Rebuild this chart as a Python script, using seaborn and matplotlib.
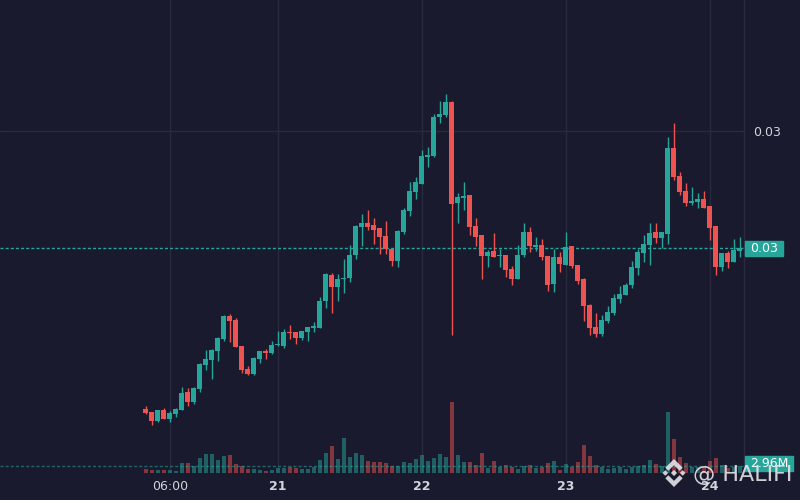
import matplotlib
matplotlib.use("Agg")
import matplotlib.pyplot as plt
from matplotlib.patches import Rectangle, Polygon
from matplotlib.lines import Line2D
from matplotlib.transforms import IdentityTransform
import numpy as np
import pandas as pd
import seaborn as sns

# hourly candles, day 20 02:00 -> day 24 05:00
opens = [0.02305, 0.022975, 0.02275, 0.023025, 0.0228, 0.022925, 0.023025, 0.023475, 0.023225, 0.02355,
         0.02415, 0.024275, 0.0245, 0.0248, 0.025375, 0.025275, 0.024625, 0.02405, 0.023925, 0.0243,
         0.0245, 0.02445, 0.02465, 0.024625, 0.024975, 0.024975, 0.024825, 0.024975, 0.025075, 0.025075,
         0.02575, 0.0264, 0.0261, 0.0263, 0.026325, 0.0269, 0.0276, 0.0277, 0.02765, 0.027575,
         0.027375, 0.02705, 0.02675, 0.027475, 0.028, 0.028475, 0.028675, 0.02935, 0.029375, 0.03035,
         0.0304, 0.030725, 0.0282, 0.028325, 0.0284, 0.027625, 0.0274, 0.026875, 0.027, 0.026875,
         0.0269, 0.02655, 0.0263, 0.0269, 0.027475, 0.0271, 0.02715, 0.026875, 0.026175, 0.02685,
         0.02665, 0.027125, 0.02665, 0.0263, 0.02565, 0.0251, 0.024925, 0.02525, 0.02545, 0.0258,
         0.0259, 0.02615, 0.026575, 0.02695, 0.02715, 0.027475, 0.027325, 0.027425, 0.029575, 0.028875,
         0.0285, 0.0282, 0.028225, 0.0283, 0.028125, 0.027625, 0.0266, 0.02695, 0.026725, 0.027]
highs = [0.023125, 0.022975, 0.023025, 0.023075, 0.023, 0.023075, 0.0236, 0.023575, 0.0236, 0.0242,
         0.024525, 0.02455, 0.02485, 0.0254, 0.025425, 0.025325, 0.024625, 0.024125, 0.02435, 0.0245,
         0.02455, 0.02475, 0.025, 0.02505, 0.02515, 0.024975, 0.025, 0.0251, 0.025225, 0.02585,
         0.02645, 0.02645, 0.026425, 0.0268, 0.02715, 0.02765, 0.027925, 0.028025, 0.027825, 0.027575,
         0.02775, 0.02705, 0.027525, 0.028075, 0.028725, 0.02885, 0.029525, 0.0296, 0.030425, 0.03075,
         0.030925, 0.03075, 0.02845, 0.028725, 0.0284, 0.027825, 0.0274, 0.027025, 0.02745, 0.02705,
         0.0269, 0.026625, 0.02715, 0.0277, 0.0276, 0.02735, 0.0273, 0.026875, 0.02705, 0.026975,
         0.027475, 0.027125, 0.02665, 0.026325, 0.025675, 0.02545, 0.0254, 0.025625, 0.025925, 0.026125,
         0.0262, 0.02675, 0.02705, 0.0274, 0.0277, 0.0277, 0.027475, 0.02985, 0.0302, 0.028975,
         0.0287, 0.0286, 0.02845, 0.0285, 0.028125, 0.027625, 0.02695, 0.027, 0.0273, 0.02735]
lows = [0.022925, 0.02265, 0.022725, 0.0228, 0.022725, 0.02285, 0.023025, 0.023125, 0.023175, 0.023475,
        0.024025, 0.0238, 0.02425, 0.02475, 0.024725, 0.0246, 0.02395, 0.0239, 0.0239, 0.0242,
        0.0243, 0.024425, 0.024625, 0.024575, 0.0248, 0.024675, 0.024775, 0.02475, 0.024975, 0.025075,
        0.025575, 0.02545, 0.02575, 0.02595, 0.026225, 0.0268, 0.027125, 0.027525, 0.027175, 0.026925,
        0.026925, 0.026625, 0.0266, 0.027425, 0.027875, 0.0283, 0.028675, 0.0291, 0.02935, 0.0302,
        0.03035, 0.0249, 0.0277, 0.028025, 0.0274, 0.027125, 0.0263, 0.0266, 0.02685, 0.0266,
        0.02635, 0.02615, 0.0263, 0.02685, 0.026975, 0.027, 0.026775, 0.026, 0.025975, 0.026475,
        0.02665, 0.026575, 0.026175, 0.02525, 0.0249, 0.02485, 0.024875, 0.0252, 0.0254, 0.0257,
        0.0259, 0.026075, 0.0264, 0.026725, 0.02665, 0.0272, 0.027075, 0.027175, 0.028775, 0.0284,
        0.028125, 0.02815, 0.028075, 0.028075, 0.027275, 0.0264, 0.0265, 0.026575, 0.026725, 0.02685]
closes = [0.02295, 0.02275, 0.023025, 0.0228, 0.02295, 0.02305, 0.02345, 0.023225, 0.023575, 0.024175,
          0.0243, 0.024525, 0.024825, 0.025375, 0.02525, 0.0246, 0.024025, 0.023925, 0.024325, 0.0245,
          0.02445, 0.02465, 0.024675, 0.024975, 0.02495, 0.024825, 0.025, 0.0251, 0.025125, 0.02575,
          0.026425, 0.0261, 0.0263, 0.026325, 0.0269, 0.027625, 0.0277, 0.0276, 0.027525, 0.02735,
          0.02705, 0.02675, 0.0275, 0.028025, 0.0285, 0.028725, 0.029375, 0.0294, 0.03035, 0.030425,
          0.030725, 0.028175, 0.02835, 0.028375, 0.0276, 0.02735, 0.026875, 0.026975, 0.02685, 0.0269,
          0.026525, 0.0263, 0.0269, 0.027475, 0.027125, 0.02715, 0.02685, 0.02615, 0.02685, 0.026675,
          0.0271, 0.026625, 0.02625, 0.025625, 0.025075, 0.024925, 0.025275, 0.025475, 0.025825, 0.025925,
          0.02615, 0.0266, 0.026975, 0.027175, 0.02745, 0.027325, 0.027475, 0.029575, 0.02885, 0.028475,
          0.0282, 0.02825, 0.0283, 0.028075, 0.027575, 0.0266, 0.02695, 0.026725, 0.027025, 0.027075]
# volume in millions
volumes_m = [1.69, 1.27, 1.27, 1.27, 1.27, 0.85, 4.23, 4.23, 2.96, 6.35,
             8.04, 8.04, 5.50, 7.19, 7.61, 3.81, 2.96, 1.69, 1.69, 1.27,
             0.85, 1.27, 2.12, 2.12, 2.54, 2.12, 1.69, 1.69, 2.54, 5.50,
             8.46, 11.42, 5.92, 14.80, 6.77, 8.46, 7.61, 5.08, 4.65, 4.65,
             4.23, 2.96, 2.96, 4.65, 4.23, 5.92, 7.61, 5.08, 6.35, 8.04,
             6.77, 30.03, 7.61, 4.65, 4.65, 3.38, 8.46, 2.12, 5.08, 2.54,
             3.38, 2.54, 1.69, 2.96, 3.38, 2.12, 2.54, 4.23, 5.08, 1.27,
             3.81, 2.54, 4.65, 11.84, 7.19, 3.38, 2.54, 1.69, 2.12, 2.54,
             1.69, 2.54, 2.96, 3.38, 5.50, 3.81, 2.96, 25.80, 14.38, 6.77,
             4.23, 2.54, 2.54, 2.54, 5.08, 6.35, 3.38, 2.12, 2.54, 2.96]

tick_pos = [4, 22, 46, 70, 94]
tick_labels = ["06:00", "21", "22", "23", "24"]
tick_bold = [False, True, True, True, True]
price_ticks = [0.03]

bg = "#1a1a2e"
grid_c = "#2a2a3e"
up_c = "#26a69a"
down_c = "#ef5350"
text_c = "#d1d4dc"

sns.set_theme(style="dark", rc={"axes.facecolor": bg, "figure.facecolor": bg,
                                "axes.grid": False})
plt.rcParams["font.family"] = ["DejaVu Sans"]

df = pd.DataFrame({"open": opens, "high": highs, "low": lows,
                   "close": closes, "volume": volumes_m})
df["idx"] = np.arange(len(df))
df["dir"] = np.where(df["close"] >= df["open"], "up", "down")

fig = plt.figure(figsize=(8, 5), dpi=100)
ax = fig.add_axes([0, 0.054, 0.93, 0.946])
axv = ax.twinx()
ax.set_zorder(axv.get_zorder() + 1)
ax.patch.set_visible(False)
axv.patch.set_facecolor(bg)

# volume pane (behind candles)
for p in tick_pos:
    axv.axvline(p, color=grid_c, lw=1, zorder=0)
sns.barplot(data=df, x="idx", y="volume", hue="dir",
            palette={"up": up_c, "down": down_c}, native_scale=True,
            dodge=False, width=0.78, alpha=0.5, saturation=1,
            errorbar=None, legend=False, linewidth=0, edgecolor="none", ax=axv)
axv.axhline(volumes_m[-1], color=up_c, alpha=0.55, lw=1, ls=(0, (2.2, 1.5)))
axv.set_ylim(0, 200)
axv.set_yticks([])
axv.set_ylabel("")
axv.set_xlabel("")

# candles
ax.axhline(price_ticks[0], color=grid_c, lw=1, zorder=0)
for d, col in (("up", up_c), ("down", down_c)):
    sub = df[df["dir"] == d]
    ax.vlines(sub["idx"], sub["low"], sub["high"], color=col, lw=1, zorder=3)
    ax.bar(sub["idx"], sub["close"] - sub["open"], bottom=sub["open"],
           width=0.83, color=col, linewidth=0, zorder=4)
ax.axhline(closes[-1], color=up_c, lw=1, ls=(0, (2.2, 1.5)), zorder=2)

ax.set_xlim(-24.33, 99.67)
ax.set_ylim(0.02145, 0.033275)

ax.set_xticks(tick_pos, tick_labels)
for lbl, b in zip(ax.get_xticklabels(), tick_bold):
    lbl.set_fontweight("bold" if b else "normal")
ax.tick_params(axis="x", length=0, pad=5, colors=text_c, labelsize=9)
ax.yaxis.tick_right()
ax.set_yticks(price_ticks, ["%.2f" % t for t in price_ticks])
ax.tick_params(axis="y", length=0, pad=6.5, colors=text_c, labelsize=9)
ax.set_xlabel("")
ax.set_ylabel("")
for a in (ax, axv):
    for s in a.spines.values():
        s.set_visible(False)

# price scale separator
fig.add_artist(Line2D([0.93, 0.93], [0.054, 1], transform=fig.transFigure,
                      color=grid_c, lw=1))

# last price / last volume labels
W, H = 800, 500
xr = 0.93 * W
_, y_last = ax.transData.transform((0, closes[-1]))
fig.add_artist(Rectangle((xr + 1, y_last - 7.5), 38, 15, transform=IdentityTransform(),
                         color=up_c, zorder=2))
fig.text((xr + 20) / W, y_last / H, "%.2f" % closes[-1], color="white",
         ha="center", va="center", fontsize=9)
_, y_vol = axv.transData.transform((0, volumes_m[-1]))
fig.add_artist(Rectangle((xr + 1, y_vol - 5.5), 48, 15, transform=IdentityTransform(),
                         color=up_c, zorder=2))
fig.text((xr + 25) / W, (y_vol + 2) / H, "%.2fM" % volumes_m[-1], color="white",
         ha="center", va="center", fontsize=9)

# watermark
cx, cy, s = 674, 27, 14
wm = "#e4e4ea"
shapes = [
    [(0, 0.22), (0.22, 0), (0, -0.22), (-0.22, 0)],
    [(-0.62, 0.2), (-0.42, 0), (-0.62, -0.2), (-0.82, 0)],
    [(0.62, 0.2), (0.82, 0), (0.62, -0.2), (0.42, 0)],
    [(0, 1.0), (0.62, 0.38), (0.4, 0.16), (0, 0.56), (-0.4, 0.16), (-0.62, 0.38)],
    [(0, -1.0), (0.62, -0.38), (0.4, -0.16), (0, -0.56), (-0.4, -0.16), (-0.62, -0.38)],
]
for shp in shapes:
    pts = [(cx + s * px, cy + s * py) for px, py in shp]
    fig.add_artist(Polygon(pts, closed=True, transform=IdentityTransform(),
                           facecolor=wm, edgecolor="none", alpha=0.9, zorder=5))
fig.text(693 / W, 19 / H, "@ HALIFI", fontsize=16, color=wm, alpha=0.9,
         ha="left", va="baseline", zorder=6)

fig.savefig("out.png", dpi=100, facecolor=bg)
